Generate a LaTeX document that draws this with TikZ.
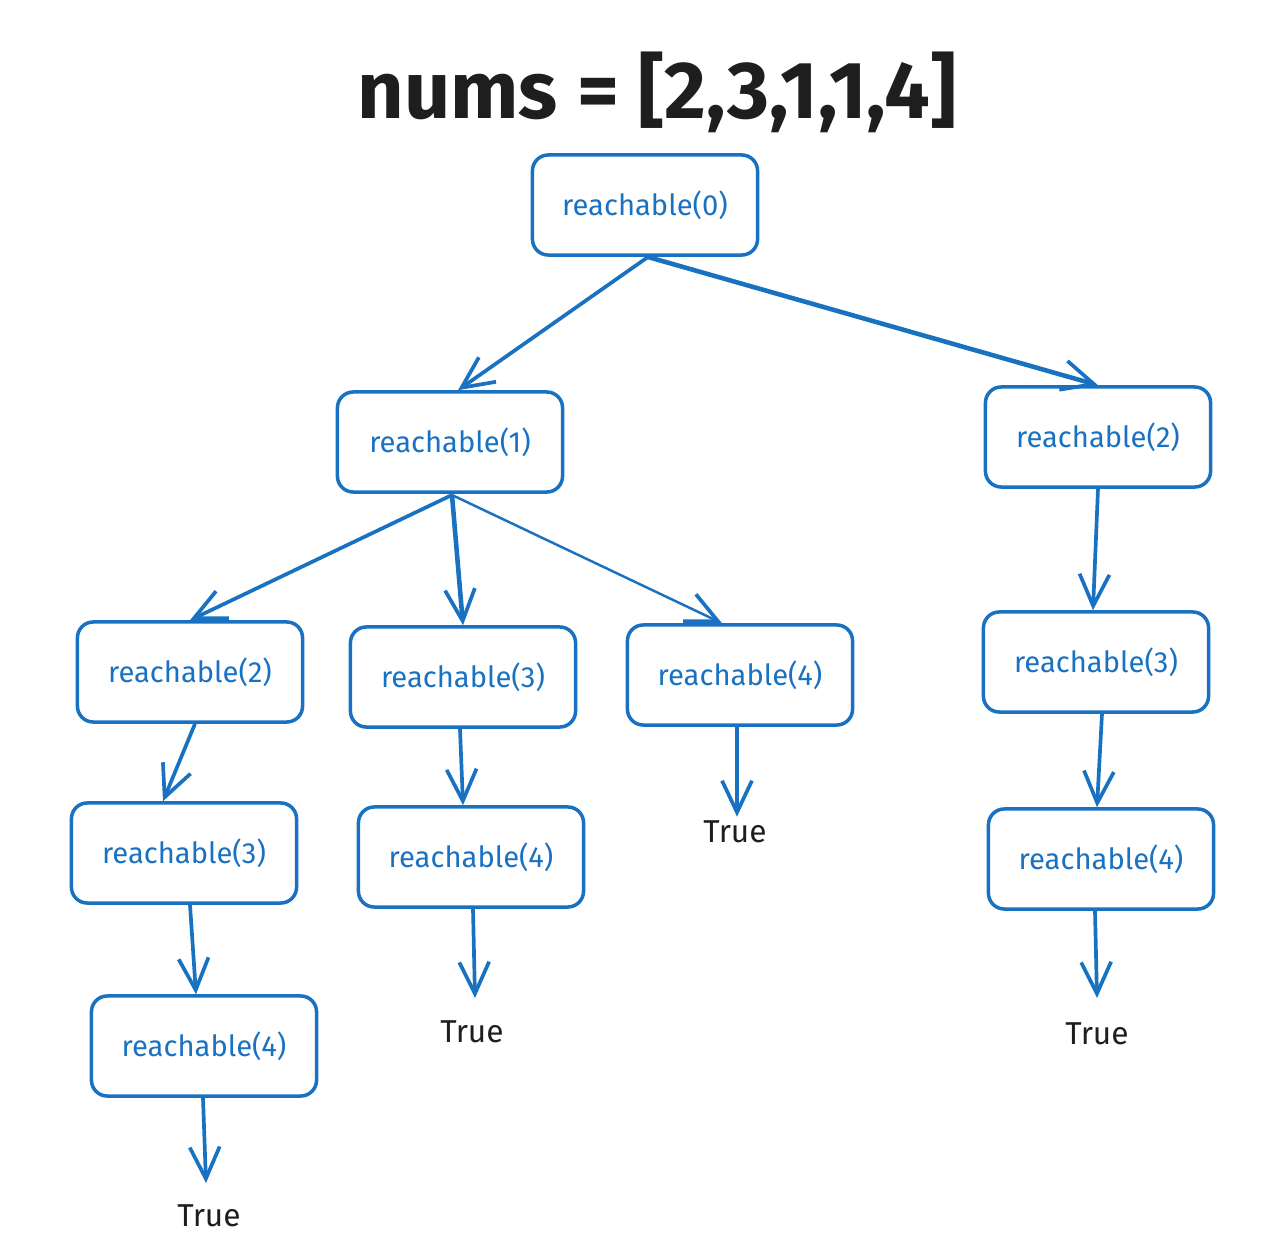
\documentclass[tikz,border=0pt]{standalone}
\usepackage{fontspec}
\setmainfont{Fira Sans}
\usetikzlibrary{arrows.meta}
\definecolor{exblue}{HTML}{1971C2}
\definecolor{exblack}{HTML}{1E1E1E}
\tikzset{
  callbox/.style={draw=exblue, line width=1.0pt, rounded corners=4.5pt,
    minimum width=2.25cm, minimum height=1.0cm, inner sep=0pt,
    text=exblue, font=\fontsize{8.3}{10}\selectfont},
  conn/.style={draw=exblue, line width=1.05pt,
    -{Straight Barb[length=9pt, width=8.5pt, line width=1.05pt]}},
  thickconn/.style={conn, line width=1.3pt},
  thinconn/.style={conn, line width=0.7pt},
  result/.style={text=exblack, font=\fontsize{9}{11}\selectfont, inner sep=1pt},
}
\begin{document}
\begin{tikzpicture}[x=0.01cm, y=-0.01cm]
\useasboundingbox (0,0) rectangle (1272,1252);
\node[text=exblack, font=\fontsize{23}{27}\selectfont\bfseries] (title) at (657,92) {nums = [2,3,1,1,4]};

\node[callbox] (r0) at (645,205) {reachable(0)};
\node[callbox] (r1) at (450,442) {reachable(1)};
\node[callbox] (r2) at (1098,437) {reachable(2)};
\node[callbox] (a2) at (190,672) {reachable(2)};
\node[callbox] (b3) at (463,677) {reachable(3)};
\node[callbox] (c4) at (740,675) {reachable(4)};
\node[callbox] (d3) at (1096,662) {reachable(3)};
\node[callbox] (a3) at (184,853) {reachable(3)};
\node[callbox] (b4) at (471,857) {reachable(4)};
\node[callbox] (d4) at (1101,859) {reachable(4)};
\node[callbox] (a4) at (204,1046) {reachable(4)};

\node[result] (tc) at (735,832) {True};
\node[result] (tb) at (472,1032) {True};
\node[result] (td) at (1097,1034) {True};
\node[result] (ta) at (209,1216) {True};

\coordinate (r0s) at (648,257);
\coordinate (r1s) at (452,495);
\draw[conn] (r0s) -- (r1.north -| 458,0);
\draw[thickconn] (r0s) -- (r2.north);
\draw[conn] (r1s) -- (a2.north);
\draw[thickconn] (r1s) -- (b3.north);
\draw[thinconn] (r1s) -- (c4.north -| 722,0);
\draw[conn] (a2.south -| 195,0) -- (a3.north -| 163,0);
\draw[conn] (b3.south -| 460,0) -- (b4.north -| 463,0);
\draw[conn] (c4.south -| 737,0) -- (tc.north -| 737,0);
\draw[conn] (r2.south) -- (d3.north -| 1093,0);
\draw[conn] (d3.south -| 1102,0) -- (d4.north -| 1097,0);
\draw[conn] (a3.south -| 190,0) -- (a4.north -| 196,0);
\draw[conn] (b4.south -| 473,0) -- (475,998);
\draw[conn] (d4.south -| 1095,0) -- (1097,998);
\draw[conn] (a4.south -| 203,0) -- (206,1183);
\end{tikzpicture}
\end{document}
